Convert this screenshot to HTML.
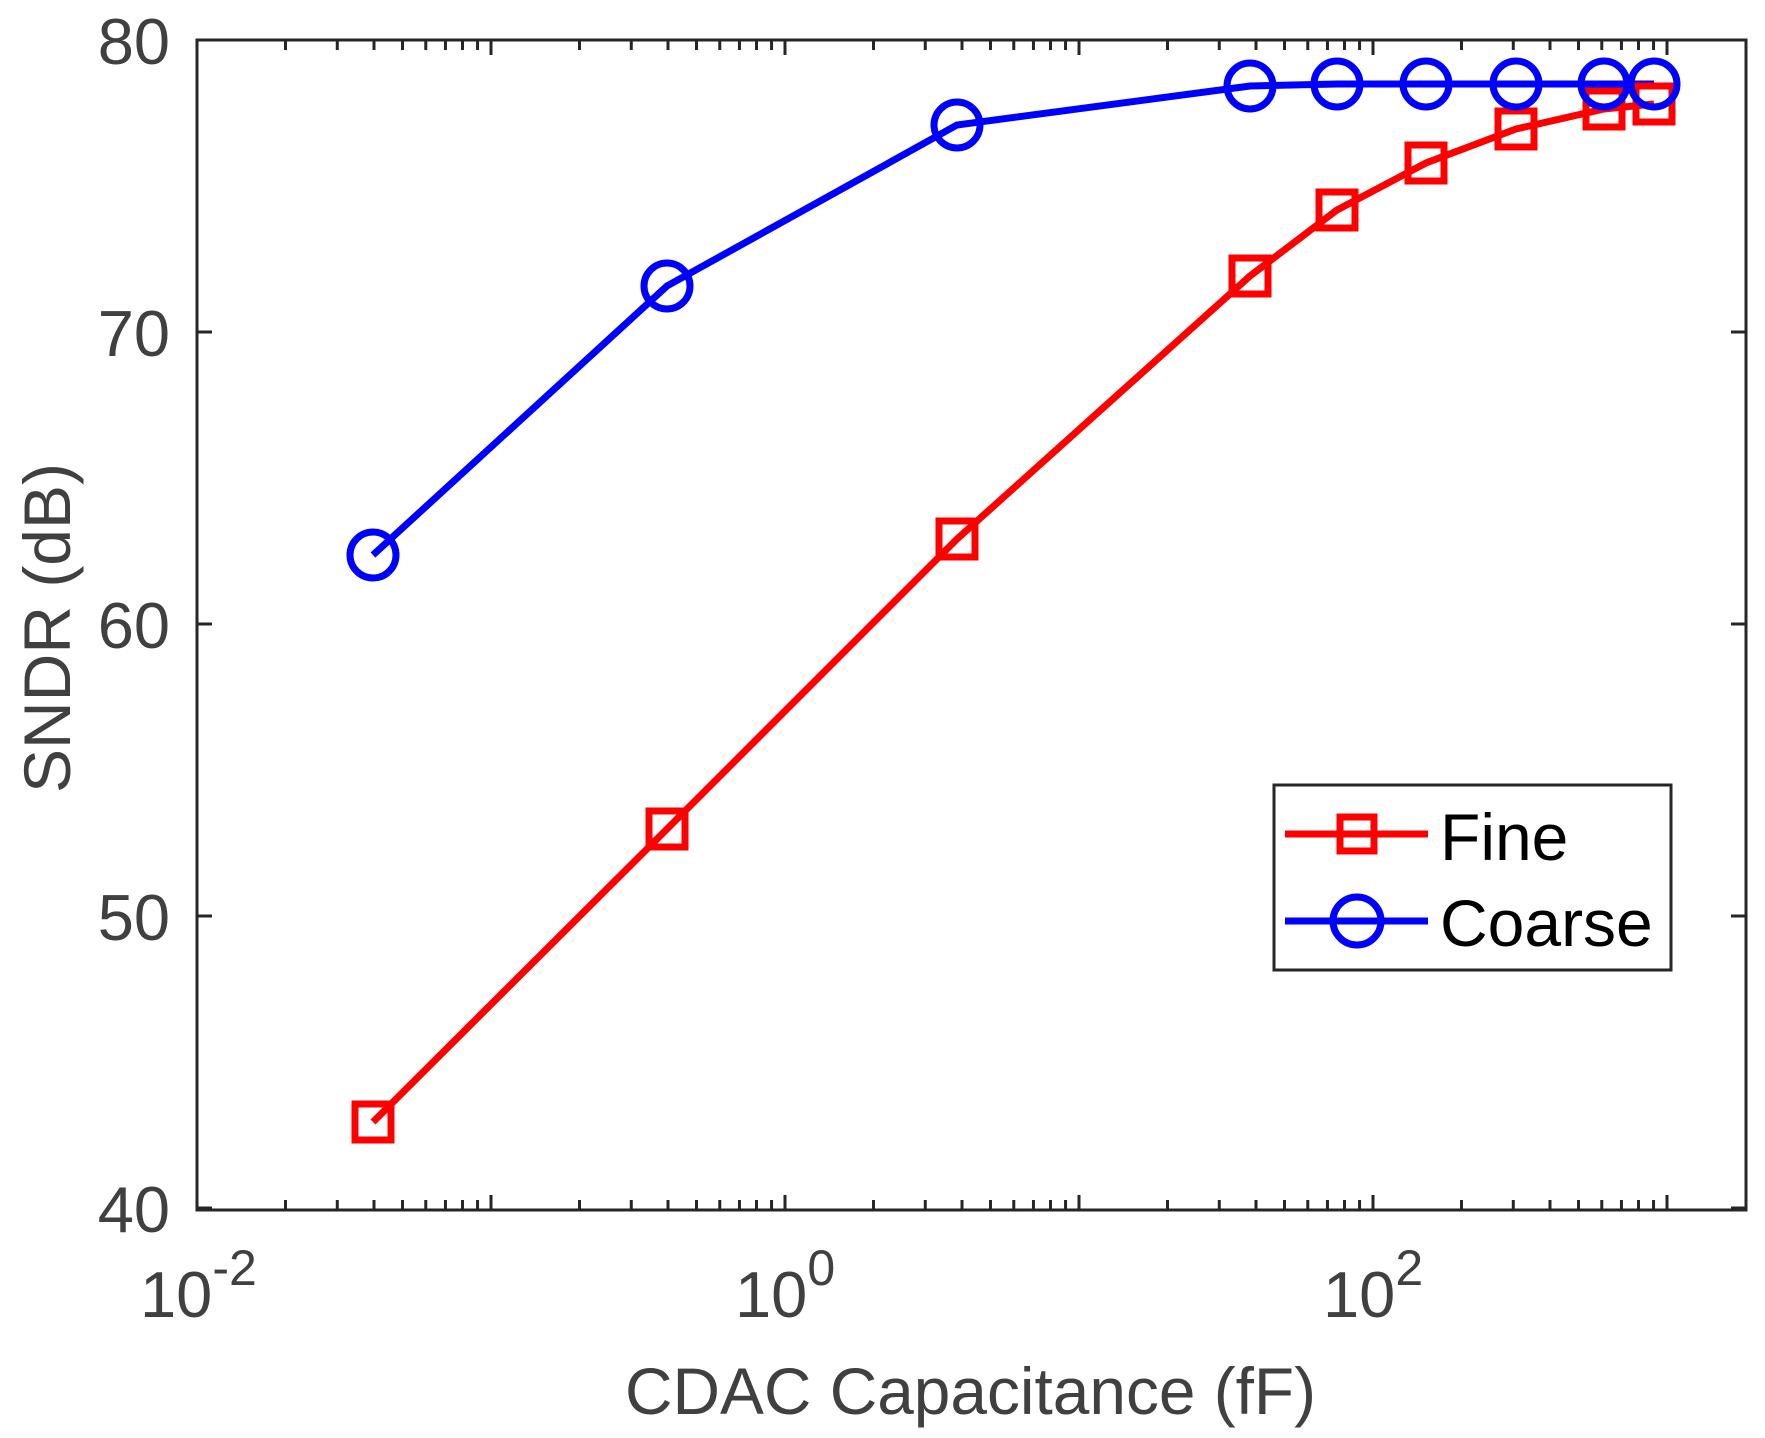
<!DOCTYPE html>
<html><head><meta charset="utf-8"><style>html,body{margin:0;padding:0;background:#fff}svg{display:block}</style></head>
<body>
<svg width="1765" height="1438" viewBox="0 0 1765 1438" xmlns="http://www.w3.org/2000/svg" font-family="Liberation Sans, Arial, sans-serif">
<rect width="1765" height="1438" fill="#fff"/>
<g id="ticks" stroke="#262626" stroke-width="3">
</g>
<script>
(function(){
var g=document.getElementById('ticks'),ns='http://www.w3.org/2000/svg';
function L(x1,y1,x2,y2){var l=document.createElementNS(ns,'line');l.setAttribute('x1',x1);l.setAttribute('y1',y1);l.setAttribute('x2',x2);l.setAttribute('y2',y2);g.appendChild(l);}
var x0=197,dec=294,xr=1746,yt=40,yb=1210;
for(var d=-2;d<=3;d++){for(var k=1;k<=9;k++){var x=x0+(d+2+Math.log10(k))*dec;if(x>xr-2)continue;var len=(k==1)?15:10;L(x,yb,x,yb-len);L(x,yt,x,yt+len);}}
for(var i=0;i<=4;i++){var y=1208-i*292;L(x0,y,x0+15,y);L(xr,y,xr-15,y);}
})();
</script>
<rect x="197" y="40" width="1549" height="1170" fill="none" stroke="#262626" stroke-width="3"/>
<g fill="#404040" font-size="65" text-anchor="end">
<text x="170" y="64">80</text>
<text x="170" y="356">70</text>
<text x="170" y="648">60</text>
<text x="170" y="940">50</text>
<text x="170" y="1232">40</text>
</g>
<g fill="#404040">
<text x="140" y="1317" font-size="65">10<tspan font-size="50" dy="-32">-2</tspan></text>
<text x="735" y="1317" font-size="65">10<tspan font-size="50" dy="-32">0</tspan></text>
<text x="1323" y="1317" font-size="65">10<tspan font-size="50" dy="-32">2</tspan></text>
<text x="625" y="1414" font-size="66" textLength="691" lengthAdjust="spacingAndGlyphs">CDAC Capacitance (fF)</text>
<text transform="translate(70,628) rotate(-90)" font-size="66" text-anchor="middle">SNDR (dB)</text>
</g>
<g fill="none" stroke-width="7">
<polyline stroke="#ff0000" points="373,1122 667,829 957,539 1250,276 1337,210 1426,163 1516,129 1604,109 1654,104"/>
<polyline stroke="#0000ff" points="373,555 667,286 957,125 1250,86 1337,84 1426,84 1516,84 1604,84 1654,84"/>
<g stroke="#ff0000">
<rect x="355" y="1104" width="36" height="36"/><rect x="649" y="811" width="36" height="36"/><rect x="939" y="521" width="36" height="36"/><rect x="1232" y="258" width="36" height="36"/><rect x="1319" y="192" width="36" height="36"/><rect x="1408" y="145" width="36" height="36"/><rect x="1498" y="111" width="36" height="36"/><rect x="1586" y="91" width="36" height="36"/><rect x="1636" y="86" width="36" height="36"/>
</g>
<g stroke="#0000ff">
<circle cx="373" cy="555" r="23"/><circle cx="667" cy="286" r="23"/><circle cx="957" cy="125" r="23"/><circle cx="1250" cy="86" r="23"/><circle cx="1337" cy="84" r="23"/><circle cx="1426" cy="84" r="23"/><circle cx="1516" cy="84" r="23"/><circle cx="1604" cy="84" r="23"/><circle cx="1654" cy="84" r="23"/>
</g>
</g>
<rect x="1274" y="785" width="397" height="185" fill="#fff" stroke="#262626" stroke-width="3"/>
<g fill="none" stroke-width="7">
<line x1="1285" y1="834" x2="1428" y2="834" stroke="#ff0000"/>
<rect x="1340" y="817" width="34" height="34" stroke="#ff0000"/>
<line x1="1285" y1="921" x2="1428" y2="921" stroke="#0000ff"/>
<circle cx="1357" cy="921" r="24" stroke="#0000ff"/>
</g>
<g fill="#000" font-size="66">
<text x="1440" y="860">Fine</text>
<text x="1440" y="946">Coarse</text>
</g>
</svg>
</body></html>
